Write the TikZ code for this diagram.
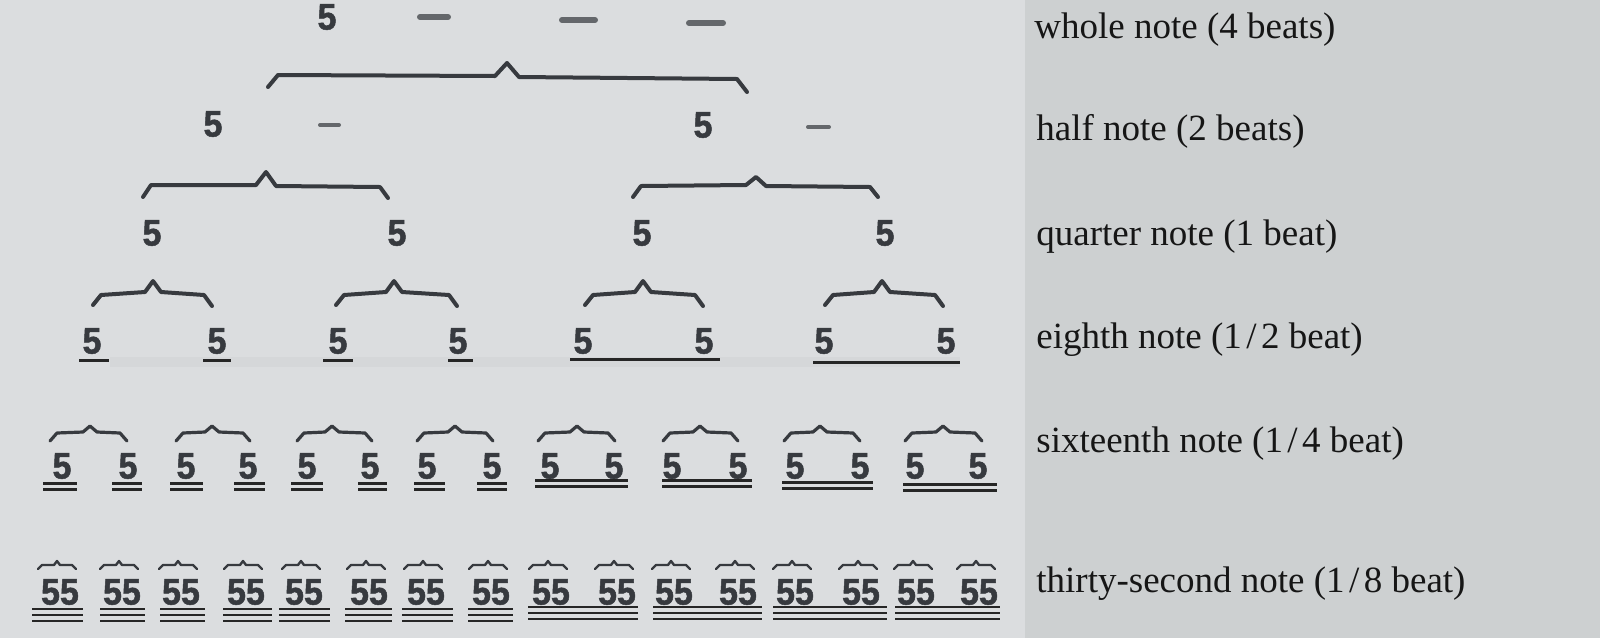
\documentclass[tikz,border=0pt]{standalone}
\usepackage{fontspec}
\setmainfont{Liberation Serif}
\newfontfamily\digitfont[BoldFeatures={FakeBold=1.3,FakeStretch=0.92}]{Liberation Sans}
\definecolor{leftbg}{RGB}{219,221,223}
\definecolor{rightbg}{RGB}{205,208,209}
\definecolor{bandc}{RGB}{213,215,217}
\definecolor{inkc}{RGB}{55,58,63}
\definecolor{dashc}{RGB}{100,103,107}
\definecolor{txtc}{RGB}{22,22,22}
\newcommand\spslash{\kern0.12em/\kern0.12em}
\begin{document}
\begin{tikzpicture}[x=0.5pt,y=-0.5pt,
  dig/.style={inner sep=0pt, text=inkc, font=\digitfont\bfseries\fontsize{18.5}{18.5}\selectfont},
  lbl/.style={inner sep=0pt, anchor=base west, text=txtc, font=\fontsize{18.5}{18.5}\selectfont},
  brA/.style={draw=inkc, line width=2pt, line join=round, line cap=round},
  brB/.style={draw=inkc, line width=1.6pt, line join=round, line cap=round},
  brC/.style={draw=inkc, line width=1.2pt, line join=round, line cap=round},
  dsh/.style={draw=dashc, line width=3pt, line cap=round},
  dshs/.style={draw=dashc, line width=2pt, line cap=round},
  ul/.style={draw=black!85, line width=1.5pt},
  ulm/.style={draw=black!85, line width=1.4pt}]
\useasboundingbox (0,0) rectangle (1600,638);
\fill[leftbg] (0,0) rectangle (1025,638);
\fill[rightbg] (1025,0) rectangle (1600,638);
\fill[bandc] (110,357) rectangle (960,367);

% labels
\node[lbl] (l1) at (1034,38) {whole note (4 beats)};
\node[lbl] (l2) at (1036,140) {half note (2 beats)};
\node[lbl] (l3) at (1036,245) {quarter note (1 beat)};
\node[lbl] (l4) at (1036,348) {eighth note (1\spslash 2 beat)};
\node[lbl] (l5) at (1036,452) {sixteenth note (1\spslash 4 beat)};
\node[lbl] (l6) at (1036,592) {thirty-second note (1\spslash 8 beat)};

% row 1: whole note
\node[dig] (w1) at (327,17) {5};
\draw[dsh] (420,17) -- (448,17);
\draw[dsh] (562,20) -- (595,20);
\draw[dsh] (689,23) -- (723,23);
\draw[brA] (268,87) -- (278,75) -- (495,76) -- (507,63) -- (519,77) -- (737,79) -- (747,92);

% row 2: half notes
\node[dig] (h1) at (213,124) {5};
\node[dig] (h2) at (703,125) {5};
\draw[dshs] (320,125) -- (339,125);
\draw[dshs] (808,127) -- (829,127);
\draw[brA] (143,197) -- (151,185) -- (256,185) -- (266,172) -- (276,186) -- (380,187) -- (388,198);
\draw[brA] (633,197) -- (641,186) -- (746,185) -- (756,177) -- (766,186) -- (870,187) -- (878,197);

% row 3: quarter notes
\foreach \c [count=\i] in {152,397,642,885}
  \node[dig] (q\i) at (\c,233) {5};

% braces above eighth notes
\foreach \a/\p/\b in {93/153/212, 336/394/457, 585/643/703, 825/882/943}
  \draw[brA] (\a,305) -- (\a+8,295) -- (\p-8,292) -- (\p,281) -- (\p+8,292) -- (\b-8,295) -- (\b,306);

% row 4: eighth notes
\foreach \c [count=\i] in {92,217,338,458,583,704,824,946}
  \node[dig] (e\i) at (\c,341) {5};
\foreach \a/\b/\y in {79/109/360, 203/231/360, 323/353/360, 448/473/360, 570/720/359, 813/960/362}
  \draw[ul] (\a,\y) -- (\b,\y);

% braces above sixteenth notes
\foreach \a/\p/\b in {50/90/127, 176/212/250, 297/332/372, 417/455/493, 538/577/615, 663/700/738, 784/820/860, 905/943/982}
  \draw[brB] (\a,441) -- (\a+7,433) -- (\p-7,432) -- (\p,426) -- (\p+7,432) -- (\b-7,433) -- (\b,441);

% row 5: sixteenth notes
\foreach \c [count=\i] in {62,128,186,248,307,370,427,492,550,614,672,738,795,860,915,978}
  \node[dig] (s\i) at (\c,466) {5};
\foreach \a/\b/\y in {43/77/483, 112/142/483, 170/203/483, 234/265/483, 291/323/483, 358/387/483, 414/445/483, 477/507/483, 535/628/480, 662/752/480, 782/873/482, 903/997/484}
  {\draw[ul] (\a,\y) -- (\b,\y); \draw[ul] (\a,\y+6) -- (\b,\y+6);}

% row 6: thirty-second notes
\foreach \c [count=\i] in {60,122,181,246,304,369,426,491,551,617,674,738,795,861,916,979}
  {\node[dig] (t\i) at (\c,592) {55};
   \draw[brC] (\c-22,569) -- (\c-18,565) -- (\c-6,565) -- (\c-3,561) -- (\c,565) -- (\c+12,565) -- (\c+16,569);}
\foreach \a/\b/\y in {32/83/609, 100/145/609, 160/205/609, 223/272/609, 279/330/609, 345/392/609, 402/453/609, 468/513/609, 528/638/607, 653/762/607, 773/887/607, 895/1000/607}
  {\draw[ulm] (\a,\y) -- (\b,\y); \draw[ulm] (\a,\y+6) -- (\b,\y+6); \draw[ulm] (\a,\y+12) -- (\b,\y+12);}
\end{tikzpicture}
\end{document}
